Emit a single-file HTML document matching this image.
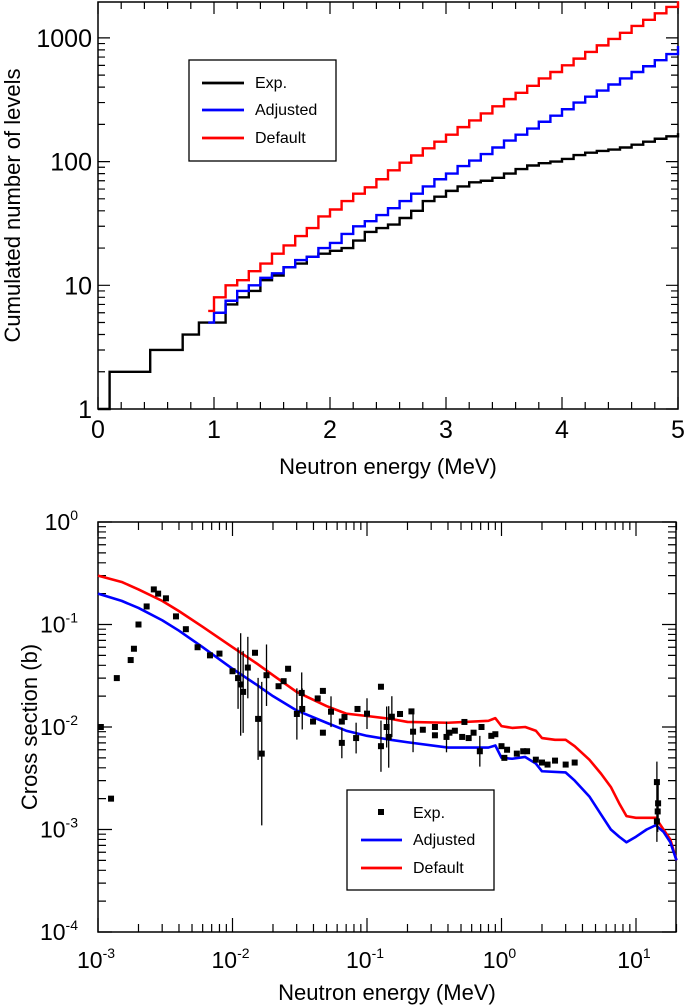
<!DOCTYPE html>
<html><head><meta charset="utf-8"><style>
html,body{margin:0;padding:0;background:#fff;}
svg{display:block;font-family:"Liberation Sans",Arial,sans-serif;}
</style></head><body>
<svg id="fig" width="685" height="1008" viewBox="0 0 685 1008">
<g id="top"></g>
<g id="bot"></g>
</svg>
<script>
// ---- Top chart data ----
const expE = [0,0.1,0.45,0.73,0.87,1.0,1.1,1.2,1.3,1.4,1.5,1.6,1.7,1.8,1.9,2.0,2.1,2.2,2.3,2.4,2.5,2.6,2.7,2.8,2.9,3.0,3.1,3.2,3.3,3.4,3.5,3.6,3.7,3.8,3.9,4.0,4.1,4.2,4.3,4.4,4.5,4.6,4.7,4.8,4.9,5.0];
const expN = [1,2,3,4,5,5,7,8,9,11,12,14,15,17,18,19,20,23,27,29,31,35,40,48,52,58,63,68,70,74,80,87,93,97,100,105,113,118,122,125,130,137,145,153,160,170];
const adjE = [0.95,1.0,1.1,1.2,1.3,1.4,1.5,1.6,1.7,1.8,1.9,2.0,2.1,2.2,2.3,2.4,2.5,2.6,2.7,2.8,2.9,3.0,3.1,3.2,3.3,3.4,3.5,3.6,3.7,3.8,3.9,4.0,4.1,4.2,4.3,4.4,4.5,4.6,4.7,4.8,4.9,5.0];
const adjN = [5,6,7.5,9,10,11.5,12.5,14,16,17,20,22,26,30,33,37,42,48,55,63,72,80,92,102,115,130,148,165,185,210,235,265,300,335,375,420,470,530,590,660,740,860];
const defE = [0.95,1.0,1.1,1.2,1.3,1.4,1.5,1.6,1.7,1.8,1.9,2.0,2.1,2.2,2.3,2.4,2.5,2.6,2.7,2.8,2.9,3.0,3.1,3.2,3.3,3.4,3.5,3.6,3.7,3.8,3.9,4.0,4.1,4.2,4.3,4.4,4.5,4.6,4.7,4.8,4.9,5.0];
const defN = [6.2,8,10,11,13,15,18,21,25,29,36,41,48,55,62,72,85,98,112,128,145,165,190,215,245,280,320,360,410,470,530,600,680,770,870,980,1100,1250,1400,1580,1780,1980];
const topXTicks = [0,1,2,3,4,5];
const topYTicks = [1,10,100,1000];

// ---- Bottom chart data ----
const adjCE = [1e-3,1.5e-3,2e-3,3e-3,4e-3,6e-3,1e-2,1.5e-2,2e-2,3e-2,5e-2,7e-2,0.1,0.15,0.2,0.4,0.8,0.9,1.0,1.2,1.5,1.8,2.0,3.0,3.5,4.5,5.5,6.5,7.5,8.5,10,12,14,16,18,20];
const adjCS = [0.2,0.17,0.145,0.11,0.087,0.06,0.037,0.026,0.02,0.0145,0.011,0.0092,0.0082,0.0075,0.0071,0.0063,0.0063,0.0066,0.005,0.0049,0.0051,0.0044,0.0037,0.0036,0.003,0.0021,0.0014,0.001,0.00085,0.00075,0.00085,0.001,0.0011,0.00095,0.00075,0.0005];
const defCE = [1e-3,1.5e-3,2e-3,3e-3,4e-3,6e-3,1e-2,1.5e-2,2e-2,3e-2,5e-2,7e-2,0.1,0.15,0.2,0.4,0.8,0.9,1.0,1.2,1.5,1.8,2.0,2.5,3.0,3.5,4.5,5.5,6.5,7.5,8.5,10,12,14,16,18,20];
const defCS = [0.3,0.26,0.22,0.17,0.135,0.095,0.06,0.042,0.032,0.022,0.016,0.0135,0.0128,0.012,0.0112,0.011,0.0115,0.0122,0.0102,0.0098,0.01,0.0092,0.0078,0.0075,0.0075,0.0065,0.0048,0.0035,0.0026,0.0018,0.00135,0.0013,0.0013,0.0013,0.001,0.0008,0.0005];
const ptE = [1.05e-3,1.25e-3,1.38e-3,1.75e-3,1.85e-3,2.0e-3,2.3e-3,2.6e-3,2.8e-3,3.2e-3,3.8e-3,4.5e-3,5.5e-3,6.8e-3,8e-3,1.0e-2,1.1e-2,1.15e-2,1.2e-2,1.3e-2,1.47e-2,1.55e-2,1.65e-2,1.79e-2,2.2e-2,2.4e-2,2.59e-2,3.01e-2,3.27e-2,3.3e-2,3.97e-2,4.3e-2,4.7e-2,4.7e-2,5.4e-2,6.5e-2,6.5e-2,6.8e-2,8.3e-2,8.5e-2,0.1,0.127,0.127,0.14,0.145,0.153,0.176,0.214,0.22,0.26,0.32,0.32,0.39,0.41,0.45,0.51,0.53,0.57,0.62,0.69,0.71,0.84,0.9,1.0,1.05,1.1,1.3,1.45,1.55,1.8,2.0,2.2,2.5,3.0,3.5,14.3,14.6,14.5,14.3];
const ptS = [0.01,0.002,0.03,0.045,0.058,0.1,0.15,0.22,0.2,0.18,0.12,0.09,0.06,0.05,0.052,0.035,0.03,0.026,0.022,0.038,0.053,0.012,0.0055,0.032,0.025,0.028,0.037,0.0134,0.0215,0.015,0.0113,0.019,0.0225,0.0088,0.0141,0.007,0.0113,0.0125,0.0078,0.015,0.0135,0.0247,0.0065,0.01,0.008,0.0126,0.0134,0.0142,0.009,0.0094,0.01,0.0083,0.008,0.0088,0.0092,0.008,0.0112,0.0078,0.0088,0.0058,0.01,0.0082,0.0085,0.0065,0.005,0.006,0.0055,0.0058,0.0058,0.0048,0.0045,0.0043,0.0047,0.0043,0.0045,0.0029,0.0018,0.0015,0.0012];
const ptErr = [0,0,0,0,0,0,0,0,0,0,0,0,0,0,0,0,0.3,0.5,0.4,0.3,0,0.4,0.7,0.3,0,0,0,0.25,0.2,0.2,0,0,0,0,0.15,0.15,0,0,0.15,0,0.15,0,0.25,0.2,0.3,0.2,0,0,0.2,0,0,0,0.15,0,0,0,0,0,0,0.15,0,0,0,0,0,0,0,0,0,0,0,0,0,0,0,0.2,0.2,0.2,0.2];
const botYTicks = [-4,-3,-2,-1,0];
const botXTicks = [-3,-2,-1,0,1];

const NS='http://www.w3.org/2000/svg';
function mk(p,t,a,txt){const e=document.createElementNS(NS,t);for(const k in a)e.setAttribute(k,a[k]);if(txt!==undefined)e.textContent=txt;p.appendChild(e);return e;}

// ---------- TOP ----------
const T=document.getElementById('top');
const tL=98,tR=678,tT=2,tB=409;
const tx=e=>tL+(e/5)*(tR-tL);
const ty=n=>tB-Math.log10(n)*123.7;
let fr=mk(T,'rect',{x:tL,y:tT,width:tR-tL,height:tB-tT,fill:'none',stroke:'#000','stroke-width':1.5});

let tk='';
for(let i=0;i<=25;i++){const x=tx(i*0.2);const L=(i%5==0)?12:7;tk+=`M${x},${tB}v${-L}M${x},${tT}v${L}`;}
for(let d=0;d<4;d++)for(let m=1;m<10;m++){const v=Math.pow(10,d)*m;const y=ty(v);if(y<tT)continue;const L=m==1?12:7;tk+=`M${tL},${y}h${L}M${tR},${y}h${-L}`;}
let tp=mk(T,'path',{d:tk,stroke:'#000','stroke-width':1.2,fill:'none'});

topXTicks.forEach(v=>{const t=mk(T,'text',{x:tx(v),y:tB+29,'font-size':25,'text-anchor':'middle'},String(v));
});
topYTicks.forEach(v=>{const t=mk(T,'text',{x:tL-6,y:ty(v)+9,'font-size':25,'text-anchor':'end'},String(v));
});
let xt=mk(T,'text',{x:(tL+tR)/2,y:474,'font-size':22,'text-anchor':'middle'},'Neutron energy (MeV)');

let yt=mk(T,'text',{x:0,y:0,'font-size':22,'text-anchor':'middle',transform:`translate(20,${(tT+tB)/2}) rotate(-90)`},'Cumulated number of levels');

function stepPath(E,N){let d=`M${tx(E[0])},${ty(N[0])}`;for(let i=1;i<E.length;i++){d+=`H${tx(E[i])}V${ty(N[i])}`;}return d;}
let s1=mk(T,'path',{d:stepPath(expE,expN),stroke:'#000','stroke-width':2.4,fill:'none'});

let s2=mk(T,'path',{d:stepPath(adjE,adjN),stroke:'#0000ff','stroke-width':2.4,fill:'none'});

let s3=mk(T,'path',{d:stepPath(defE,defN),stroke:'#ff0000','stroke-width':2.4,fill:'none'});

// legend
let lg=mk(T,'g',{});
mk(lg,'rect',{x:189,y:60,width:147,height:101,fill:'#fff',stroke:'#000','stroke-width':1.3});
[['Exp.','#000',83],['Adjusted','#0000ff',110],['Default','#ff0000',138]].forEach(([n,c,y])=>{
 const g=mk(lg,'g',{});
 mk(g,'line',{x1:202,x2:244,y1:y,y2:y,stroke:c,'stroke-width':2.8});
 mk(g,'text',{x:255,y:y+5,'font-size':16},n);});

// ---------- BOTTOM ----------
const B=document.getElementById('bot');
const bL=98,bR=676,bT=522,bB=932;
const bx=e=>bL+(Math.log10(e)+3)*134.5;
const byy=s=>bT+(-Math.log10(s))*102.5;
let bf=mk(B,'rect',{x:bL,y:bT,width:bR-bL,height:bB-bT,fill:'none',stroke:'#000','stroke-width':1.5});

let bk='';
for(let d=-3;d<=1;d++)for(let m=1;m<10;m++){const v=m*Math.pow(10,d);const x=bx(v);if(x>bR+0.5)continue;const L=m==1?14:8;bk+=`M${x},${bB}v${-L}M${x},${bT}v${L}`;}
for(let d=-4;d<0;d++)for(let m=1;m<10;m++){const v=m*Math.pow(10,d);const y=byy(v);const L=m==1?14:8;bk+=`M${bL},${y}h${L}M${bR},${y}h${-L}`;}
bk+=`M${bL},${bT}h14M${bR},${bT}h-14`;
let bp=mk(B,'path',{d:bk,stroke:'#000','stroke-width':1.2,fill:'none'});

botXTicks.forEach(p=>{const t=mk(B,'text',{x:bx(Math.pow(10,p))-2,y:968,'font-size':23,'text-anchor':'middle'});
 
 mk(t,'tspan',{},'10');mk(t,'tspan',{dy:-10,'font-size':14},String(p));});
botYTicks.forEach(p=>{const t=mk(B,'text',{x:bL-20,y:byy(Math.pow(10,p))+8,'font-size':23,'text-anchor':'end'});
 
 mk(t,'tspan',{},'10');mk(t,'tspan',{dy:-10,'font-size':14},String(p));});
let bxt=mk(B,'text',{x:(bL+bR)/2,y:1000,'font-size':22,'text-anchor':'middle'},'Neutron energy (MeV)');

let byt=mk(B,'text',{x:0,y:0,'font-size':22,'text-anchor':'middle',transform:`translate(37,${(bT+bB)/2}) rotate(-90)`},'Cross section (b)');

function linePath(E,S){return E.map((e,i)=>(i?'L':'M')+bx(e)+','+byy(S[i])).join('');}
let c1=mk(B,'path',{d:linePath(defCE,defCS),stroke:'#ff0000','stroke-width':2.6,fill:'none','stroke-linejoin':'round'});

let c2=mk(B,'path',{d:linePath(adjCE,adjCS),stroke:'#0000ff','stroke-width':2.6,fill:'none','stroke-linejoin':'round'});

let pg=mk(B,'g',{});
ptE.forEach((e,i)=>{const x=bx(e),y=byy(ptS[i]);
 if(ptErr[i]>0){const l=mk(pg,'line',{x1:x,x2:x,y1:byy(ptS[i]*Math.pow(10,ptErr[i])),y2:byy(ptS[i]/Math.pow(10,ptErr[i])),stroke:'#000','stroke-width':1.3});
  }
 const r=mk(pg,'rect',{x:x-3,y:y-3,width:6,height:6,fill:'#000'});
 });
let bl=mk(B,'g',{});
mk(bl,'rect',{x:347,y:790,width:147,height:100,fill:'#fff',stroke:'#000','stroke-width':1.3});
let g0=mk(bl,'g',{});
mk(g0,'rect',{x:378,y:809,width:6,height:6,fill:'#000'});
mk(g0,'text',{x:413,y:818,'font-size':16},'Exp.');
[['Adjusted','#0000ff',840],['Default','#ff0000',868]].forEach(([n,c,y])=>{
 const g=mk(bl,'g',{});
 mk(g,'line',{x1:361,x2:402,y1:y,y2:y,stroke:c,'stroke-width':2.8});
 mk(g,'text',{x:413,y:y+5,'font-size':16},n);});
</script>
</body></html>
